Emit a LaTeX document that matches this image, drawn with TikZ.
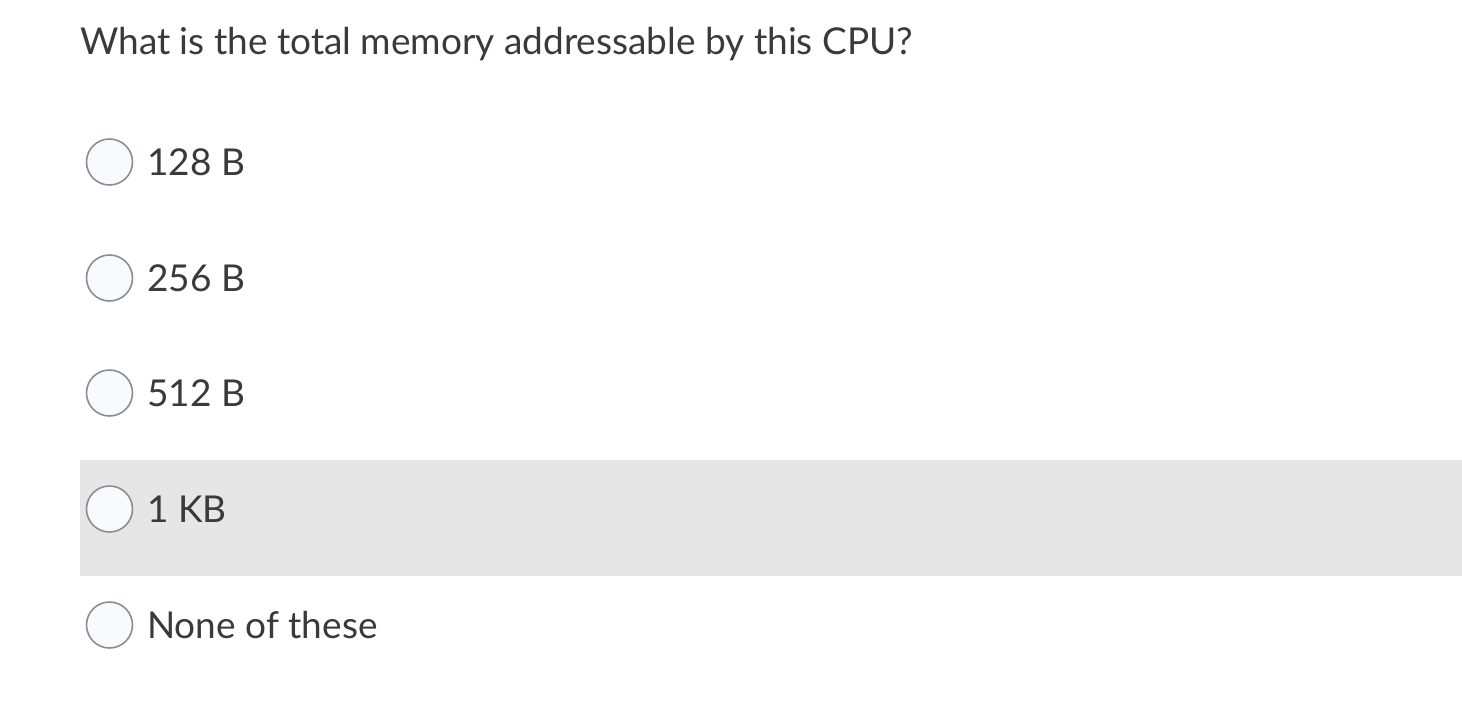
\documentclass[tikz,border=0pt]{standalone}
\usepackage{fontspec}
\setmainfont{Lato}
\definecolor{txt}{HTML}{3A3A3A}
\definecolor{ring}{HTML}{8A8D91}
\definecolor{rfill}{HTML}{F8FAFE}
\definecolor{band}{HTML}{E6E6E6}
\begin{document}
\begin{tikzpicture}[x=1pt,y=-1pt,
  radio/.style={circle,draw=ring,line width=1.6pt,fill=rfill,minimum size=46pt,inner sep=0pt},
  opt/.style={anchor=base west,text=txt,font=\fontsize{37}{40}\selectfont,inner sep=0pt},
  title/.style={anchor=base west,text=txt,font=\fontsize{37}{40}\selectfont,inner sep=0pt}]
\useasboundingbox (0,0) rectangle (1462,720);
\fill[white] (0,0) rectangle (1462,720);
\fill[band] (80,460) rectangle (1462,576);
\node[title] (q) at (80,54) {What is the total memory addressable by this CPU?};
\foreach \y/\t/\n in {162/128 B/a,278/256 B/b,393/512 B/c,509/1 KB/d,625/None of these/e}{
  \node[radio] (r\n) at (109.5,\y) {};
  \node[opt] (t\n) at (147,\y+13) {\t};
}
\end{tikzpicture}
\end{document}
